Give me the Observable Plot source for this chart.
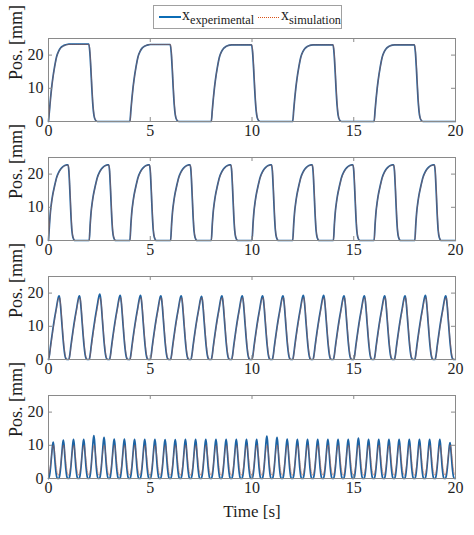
<!DOCTYPE html>
<html><head><meta charset="utf-8">
<script src="https://cdn.jsdelivr.net/npm/d3@7"></script>
<script src="https://cdn.jsdelivr.net/npm/@observablehq/plot@0.6"></script>
<style>
body{margin:0;background:#fff;}
#chart{position:relative;width:474px;height:535px;font-family:"Liberation Serif","Times New Roman",serif;background:#fff;overflow:hidden;}
.panel{position:absolute;left:0;}
#legend{position:absolute;left:153px;top:5px;width:189px;height:24px;border:1px solid #a0a0a0;background:#fff;box-sizing:border-box;display:flex;align-items:center;color:#222;white-space:nowrap;}
#legend .sw{display:inline-block;width:23px;margin-left:5px;margin-right:1px;}
#legend .lab{font-size:16px;line-height:16px;position:relative;top:-2px;}
#legend sub{font-size:12.3px;position:relative;top:4px;vertical-align:baseline;}
</style>
</head><body>
<div id="chart">
  <div id="legend">
    <span class="sw" style="height:2px;background:#0b6cb5"></span><span class="lab">x<sub>experimental</sub></span>
    <span class="sw" style="height:1px;margin-left:4px;background:repeating-linear-gradient(to right,#D95319 0 1px,transparent 1px 2px)"></span><span class="lab">x<sub>simulation</sub></span>
  </div>
</div>
<script>
// ---- axes ----
const xTicks = [0, 5, 10, 15, 20];
const yTicks = [0, 10, 20];
const xDomain = [0, 20];
const yDomain = [0, 25];
const xLabel = "Time [s]";
const yLabel = "Pos. [mm]";

// ---- panel 1: period 4 s ----
const p1Period = 4;
const p1ExpT = [0, 0.05, 0.1, 0.15, 0.2, 0.3, 0.4, 0.5, 0.6, 0.7, 0.8, 0.9, 1.0, 1.2, 1.98, 2.03, 2.08, 2.13, 2.18, 2.23, 2.3, 2.4, 3.99];
const p1ExpV = [0, 3.5, 7, 10, 12.5, 16.5, 19.6, 21.2, 22.2, 22.7, 23, 23.2, 23.3, 23.3, 23.3, 21, 16, 10, 5, 2, 0.5, 0, 0];
const p1SimT = [0, 0.05, 0.1, 0.15, 0.2, 0.3, 0.4, 0.5, 0.6, 0.7, 0.8, 0.9, 1.0, 1.2, 1.99, 2.04, 2.09, 2.14, 2.19, 2.24, 2.31, 2.41, 3.99];
const p1SimV = [0, 3.3, 6.8, 9.8, 12.3, 16.3, 19.4, 21.1, 22.1, 22.6, 22.9, 23.1, 23.2, 23.2, 23.2, 21, 16, 10, 5, 2, 0.5, 0, 0];
const p1ExpPeaks = [23.3, 23.2, 23.1, 23.1, 23.1];
const p1SimPeaks = [23.2, 23.2, 23.1, 23.1, 23.1];

// ---- panel 2: period 2 s ----
const p2Period = 2;
const p2ExpT = [0, 0.05, 0.1, 0.15, 0.2, 0.3, 0.4, 0.5, 0.6, 0.7, 0.8, 0.9, 0.96, 1.0, 1.05, 1.1, 1.15, 1.2, 1.3, 1.99];
const p2ExpV = [0, 5, 9, 11.5, 13.5, 16.5, 19, 20.5, 21.5, 22.2, 22.6, 22.8, 22.8, 21, 15, 8, 3, 1, 0, 0];
const p2SimT = [0, 0.05, 0.1, 0.15, 0.2, 0.3, 0.4, 0.5, 0.6, 0.7, 0.8, 0.9, 0.97, 1.01, 1.06, 1.11, 1.16, 1.21, 1.31, 1.99];
const p2SimV = [0, 4.8, 8.8, 11.3, 13.3, 16.3, 18.8, 20.3, 21.4, 22.1, 22.5, 22.7, 22.7, 21, 15, 8, 3, 1, 0, 0];
const p2ExpPeaks = [22.8, 22.8, 22.8, 22.8, 22.8, 22.8, 22.8, 22.8, 22.8, 22.8];
const p2SimPeaks = [22.7, 22.7, 22.7, 22.7, 22.7, 22.7, 22.7, 22.7, 22.7, 22.7];

// ---- panel 3: period 1 s ----
const p3Period = 1;
const p3ExpT = [0, 0.05, 0.1, 0.2, 0.3, 0.4, 0.45, 0.5, 0.53, 0.58, 0.65, 0.7, 0.75, 0.8, 0.85, 0.9, 0.99];
const p3ExpV = [0, 1.5, 4, 8.5, 12.5, 16, 17.8, 19, 19.2, 17, 11.5, 7.5, 4, 1.5, 0.3, 0, 0];
const p3SimT = [0, 0.05, 0.1, 0.2, 0.3, 0.4, 0.45, 0.5, 0.55, 0.6, 0.67, 0.72, 0.77, 0.82, 0.87, 0.92, 0.99];
const p3SimV = [0, 1.2, 3.5, 8, 12, 15.5, 17.3, 18.4, 18.6, 16.5, 11, 7, 3.8, 1.4, 0.3, 0, 0];
const p3ExpPeaks = [19.2, 19.2, 19.7, 19.3, 19.3, 19.2, 19.2, 19.0, 19.2, 19.2, 19.2, 19.2, 19.3, 19.3, 19.2, 19.2, 19.2, 19.2, 19.3, 19.2];
const p3SimPeaks = [18.6, 18.6, 18.6, 18.6, 18.6, 18.6, 18.6, 18.6, 18.6, 18.6, 18.6, 18.6, 18.6, 18.6, 18.6, 18.6, 18.6, 18.6, 18.6, 18.6];

// ---- panel 4: period 0.5 s ----
const p4Period = 0.5;
const p4ExpT = [0, 0.05, 0.1, 0.15, 0.2, 0.23, 0.26, 0.3, 0.35, 0.4, 0.44, 0.49];
const p4ExpV = [0, 0.9, 3.5, 7.3, 10.8, 11.8, 10.6, 7.1, 3, 0.6, 0, 0];
const p4SimT = [0, 0.05, 0.1, 0.15, 0.2, 0.24, 0.28, 0.33, 0.38, 0.43, 0.49];
const p4SimV = [1, 2.2, 4.3, 7, 9.2, 10, 9.2, 6.5, 3.6, 1.7, 1];
const p4ExpPeaks = [11.0, 11.6, 11.8, 11.8, 12.9, 12.4, 11.9, 11.9, 11.8, 11.8, 11.8, 11.7, 11.7, 11.8, 11.8, 11.8, 11.8, 11.8, 11.8, 11.8,
                    11.8, 12.8, 12.4, 11.9, 11.8, 11.8, 11.8, 11.8, 11.8, 11.8, 12.2, 11.8, 11.8, 11.8, 11.8, 11.8, 11.8, 11.8, 11.8, 10.8];
const p4SimPeaks = [10, 10, 10, 10, 10, 10, 10, 10, 10, 10, 10, 10, 10, 10, 10, 10, 10, 10, 10, 10,
                    10, 10, 10, 10, 10, 10, 10, 10, 10, 10, 10, 10, 10, 10, 10, 10, 10, 10, 10, 10];

// Build a series table: each cycle's read profile, scaled to that cycle's read peak
function buildSeries(period, profT, profV, peaks) {
  const ref = Math.max(...profV);
  const rows = [];
  peaks.forEach((pk, k) => {
    profT.forEach((t, i) => rows.push({t: k * period + t, v: profV[i] * pk / ref}));
  });
  return rows;
}

const panels = [
  {exp: buildSeries(p1Period, p1ExpT, p1ExpV, p1ExpPeaks), sim: buildSeries(p1Period, p1SimT, p1SimV, p1SimPeaks)},
  {exp: buildSeries(p2Period, p2ExpT, p2ExpV, p2ExpPeaks), sim: buildSeries(p2Period, p2SimT, p2SimV, p2SimPeaks)},
  {exp: buildSeries(p3Period, p3ExpT, p3ExpV, p3ExpPeaks), sim: buildSeries(p3Period, p3SimT, p3SimV, p3SimPeaks)},
  {exp: buildSeries(p4Period, p4ExpT, p4ExpV, p4ExpPeaks), sim: buildSeries(p4Period, p4SimT, p4SimV, p4SimPeaks)}
];

// ---- layout ----
const W = 474, mL = 48, mR = 19, frameH = 83, frameW = W - mL - mR;
const panelTops = [38, 157, 276, 395];
const axisColor = "#8a8a8a";
const textColor = "#1e1e1e";
const serif = "Liberation Serif";

const chartEl = document.getElementById("chart");
panels.forEach((p, idx) => {
  const isLast = idx === panels.length - 1;
  const mt = 2, mb = isLast ? 55 : 24;
  const marks = [
    Plot.line(p.exp, {x: "t", y: "v", stroke: "#1d63a3", strokeWidth: 1.7, curve: "monotone-x"}),
    Plot.line(p.sim, {x: "t", y: "v", stroke: "#b85a3a", strokeWidth: 1.0, strokeDasharray: "1,1", strokeOpacity: 0.6, curve: "monotone-x"}),
    Plot.frame({stroke: axisColor, strokeWidth: 1}),
    Plot.tickX(xTicks, {x: d => d, stroke: axisColor, insetTop: frameH - 4}),
    Plot.tickX(xTicks, {x: d => d, stroke: axisColor, insetBottom: frameH - 4}),
    Plot.tickY(yTicks, {y: d => d, stroke: axisColor, insetRight: frameW - 4}),
    Plot.tickY(yTicks, {y: d => d, stroke: axisColor, insetLeft: frameW - 4}),
    Plot.text(xTicks, {x: d => d, text: d => String(d), frameAnchor: "bottom", lineAnchor: "top", dy: 3, fill: textColor, fontFamily: serif, fontSize: 16}),
    Plot.text(yTicks, {y: d => d, text: d => String(d), frameAnchor: "left", textAnchor: "end", dx: -5, fill: textColor, fontFamily: serif, fontSize: 16}),
    Plot.text([yLabel], {text: d => d, frameAnchor: "left", rotate: -90, dx: -32, fill: textColor, fontFamily: serif, fontSize: 18})
  ];
  if (isLast) {
    marks.push(Plot.text([xLabel], {text: d => d, frameAnchor: "bottom", dy: 38, fill: textColor, fontFamily: serif, fontSize: 17}));
  }
  const svg = Plot.plot({
    width: W, height: mt + frameH + mb,
    marginTop: mt, marginBottom: mb, marginLeft: mL, marginRight: mR,
    style: {fontFamily: serif, fontSize: "16px", color: textColor, background: "transparent", overflow: "visible"},
    x: {domain: xDomain, axis: null},
    y: {domain: yDomain, axis: null},
    marks
  });
  svg.classList.add("panel");
  svg.style.top = (panelTops[idx] - mt) + "px";
  chartEl.appendChild(svg);
});
</script>
</body></html>
